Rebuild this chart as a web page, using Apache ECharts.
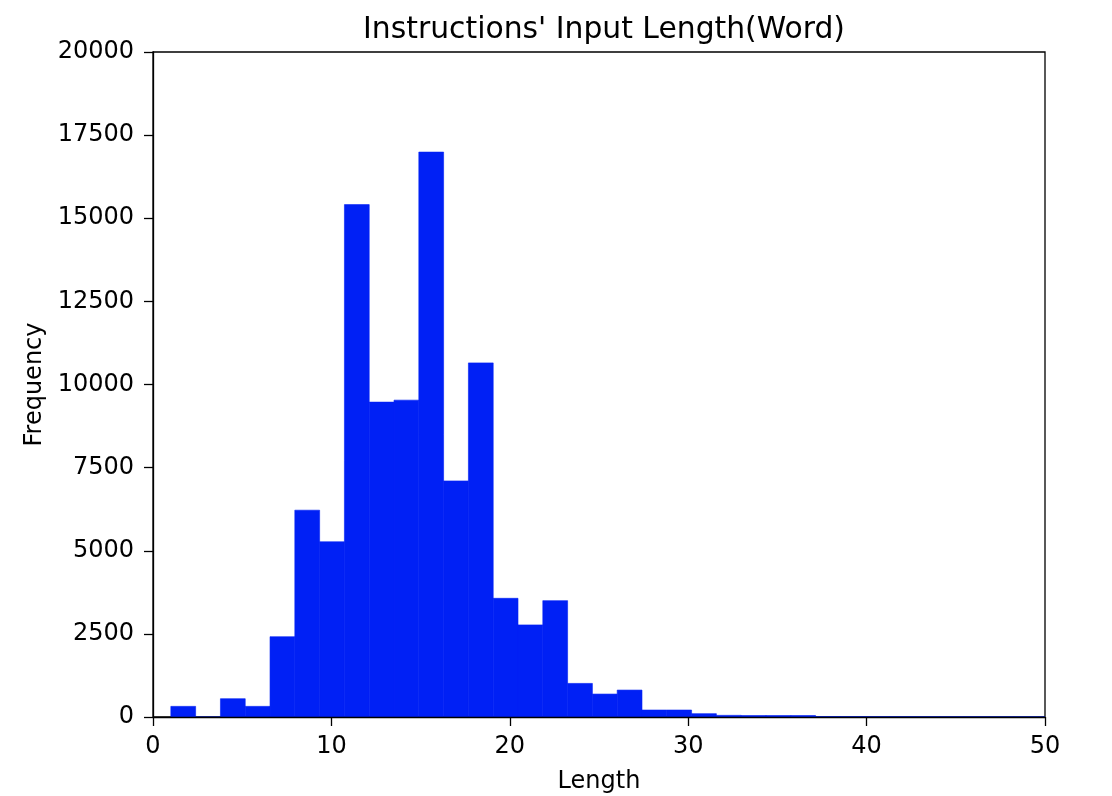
<!DOCTYPE html>
<html>
<head>
<meta charset="utf-8">
<title>Instructions' Input Length(Word)</title>
<script src="https://cdn.jsdelivr.net/npm/echarts@6/dist/echarts.min.js"></script>
<style>
	html, body { margin: 0; padding: 0; background: #fff; }
	#histChart { width: 1112px; height: 796px; }
</style>
</head>
<body>
<div id="histChart"></div>
<script>
// bin edges (word count) and counts
var binEdges = [1, 2.39, 3.78, 5.17, 6.56, 7.95, 9.34, 10.73, 12.12, 13.51, 14.9,
	16.29, 17.68, 19.07, 20.46, 21.85, 23.24, 24.63, 26.02, 27.41, 28.8,
	30.19, 31.58, 32.97, 34.36, 35.75, 37.14, 38.53, 39.92, 41.31, 42.7,
	44.09, 45.48, 46.87, 48.26, 49.65, 51.04];
var binCounts = [320, 0, 550, 320, 2415, 6220, 5270, 15410, 9470, 9530,
	16990, 7100, 10650, 3570, 2770, 3500, 1010, 690, 810, 210,
	210, 100, 50, 45, 45, 45, 10, 8, 6, 5,
	4, 3, 3, 2, 2, 1];
var xTicks = [0, 10, 20, 30, 40, 50];
var yTicks = [0, 2500, 5000, 7500, 10000, 12500, 15000, 17500, 20000];

var histData = [];
for (var i = 0; i < binCounts.length; i++) {
	histData.push([binEdges[i], binEdges[i + 1], binCounts[i]]);
}

var fontName = 'DejaVu Sans';
var barColor = '#0020f5';
var chart = echarts.init(document.getElementById('histChart'));

chart.setOption({
	animation: false,
	backgroundColor: '#ffffff',
	title: {
		text: "Instructions' Input Length(Word)",
		left: 599,
		textAlign: 'center',
		top: 10,
		textStyle: { fontFamily: fontName, fontSize: 29.8, fontWeight: 'normal', color: '#000' }
	},
	grid: {
		left: 153, right: 67, top: 52, bottom: 79,
		outerBoundsMode: 'none',
		containLabel: false,
		show: true,
		borderColor: '#000',
		borderWidth: 1.3
	},
	xAxis: {
		type: 'value',
		z: 5,
		min: xTicks[0],
		max: xTicks[xTicks.length - 1],
		interval: 10,
		name: 'Length',
		nameLocation: 'middle',
		nameGap: 53,
		nameTextStyle: { fontFamily: fontName, fontSize: 24, color: '#000' },
		axisLine: { show: true, onZero: false, lineStyle: { color: '#000', width: 1.3 } },
		axisTick: { show: true, inside: false, length: 9, lineStyle: { color: '#000', width: 1.3 } },
		axisLabel: {
			fontFamily: fontName, fontSize: 24, color: '#000', margin: 18,
			formatter: function(v) { return String(v); }
		},
		splitLine: { show: false }
	},
	yAxis: {
		type: 'value',
		z: 5,
		min: yTicks[0],
		max: yTicks[yTicks.length - 1],
		interval: 2500,
		name: 'Frequency',
		nameLocation: 'middle',
		nameGap: 105,
		nameRotate: 90,
		nameTextStyle: { fontFamily: fontName, fontSize: 24, color: '#000' },
		axisLine: { show: true, lineStyle: { color: '#000', width: 1.3 } },
		axisTick: { show: true, inside: false, length: 9, lineStyle: { color: '#000', width: 1.3 } },
		axisLabel: {
			fontFamily: fontName, fontSize: 24, color: '#000', margin: 19,
			formatter: function(v) { return String(v); }
		},
		splitLine: { show: false }
	},
	series: [{
		type: 'custom',
		clip: true,
		data: histData,
		encode: { x: [0, 1], y: 2 },
		renderItem: function(params, api) {
			var p0 = api.coord([api.value(0), 0]);
			var p1 = api.coord([api.value(1), api.value(2)]);
			return {
				type: 'rect',
				shape: { x: p0[0], y: p1[1], width: p1[0] - p0[0], height: p0[1] - p1[1] },
				style: { fill: barColor, stroke: barColor, lineWidth: 0.6 }
			};
		}
	}]
});
</script>
</body>
</html>
